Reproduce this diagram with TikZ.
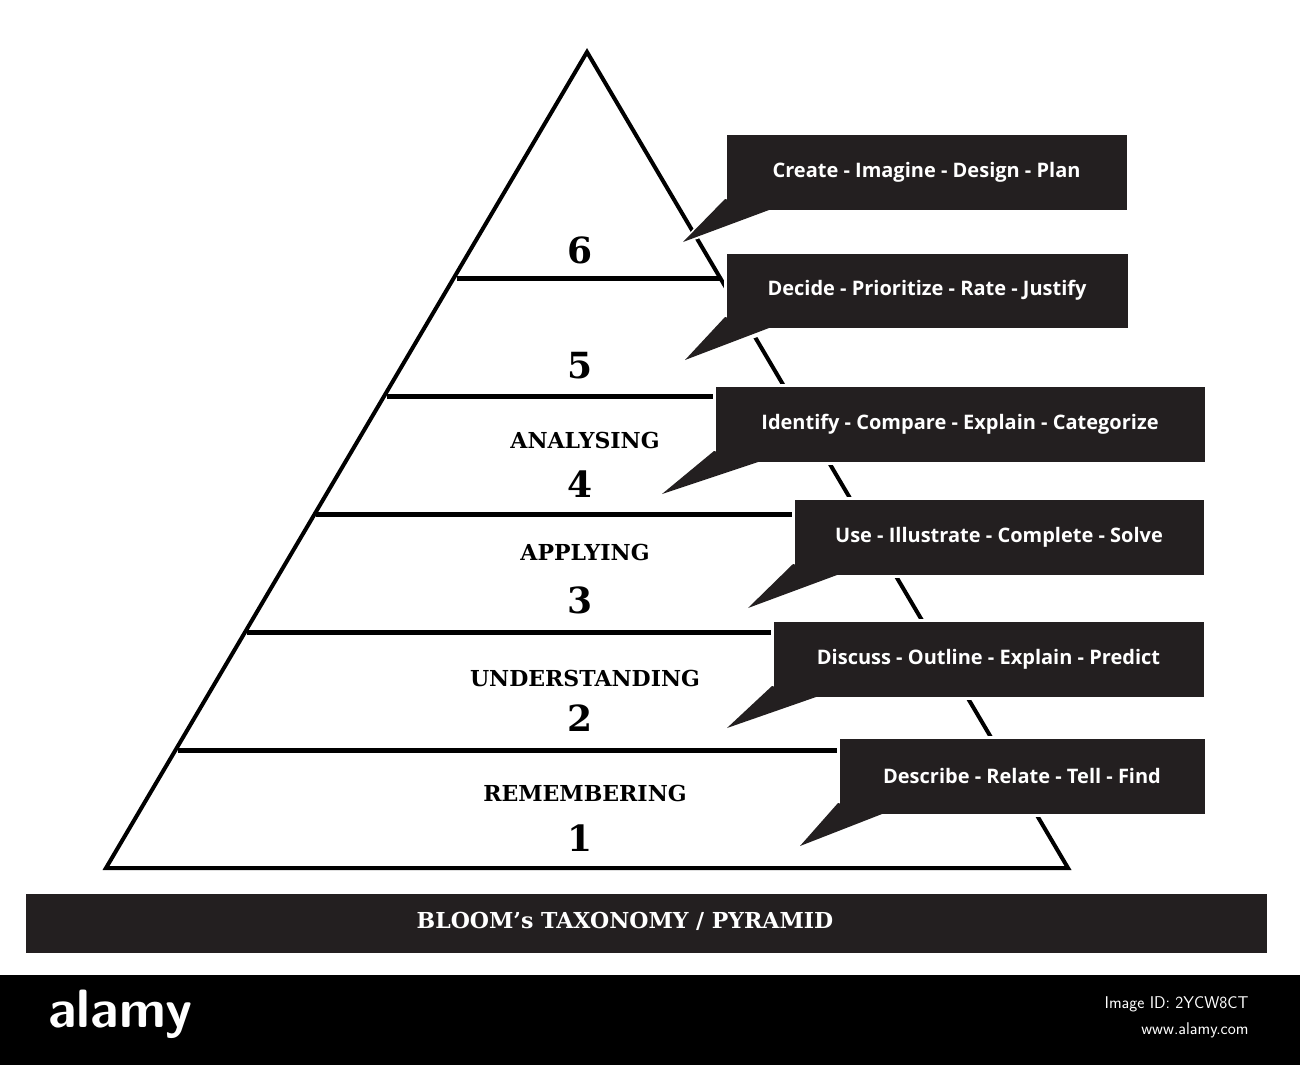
\documentclass[tikz,border=0pt]{standalone}
\usepackage{fontspec}
\setmainfont{DejaVu Serif}
\newfontfamily\boxfont{Open Sans}
\definecolor{dk}{RGB}{35,31,32}
\begin{document}
\begin{tikzpicture}[x=1pt,y=-1pt,
  lvl/.style={line width=5pt},
  cbox/.style={fill=dk,draw=white,line width=3pt},
  ctext/.style={text=white,font=\boxfont\bfseries\fontsize{20}{24}\selectfont},
  num/.style={font=\bfseries\fontsize{36}{40}\selectfont},
  captext/.style={font=\bfseries\fontsize{22}{26}\selectfont}]
\useasboundingbox (0,0) rectangle (1300,1065);
\fill[white] (0,0) rectangle (1300,1065);
\coordinate (apex) at (587,52);
\coordinate (bl) at (106,868);
\coordinate (br) at (1068,868);
\draw[line width=4pt,line join=miter] (apex) -- (bl) -- (br) -- cycle;
\draw[lvl] (457,278) -- (720,278);
\draw[lvl] (387,396) -- (720,396);
\draw[lvl] (316,514) -- (795,514);
\draw[lvl] (247,632) -- (775,632);
\draw[lvl] (178,750) -- (840,750);
% callouts
\foreach \L/\T/\R/\B/\tx/\ty/\txt/\n in {
 725/133/1128/211/683/242/{Create - Imagine - Design - Plan}/a,
 725/252/1129/329/685/360/{Decide - Prioritize - Rate - Justify}/b,
 714/385/1206/463/662/494/{Identify - Compare - Explain - Categorize}/c,
 793/498/1205/576/748/608/{Use - Illustrate - Complete - Solve}/d,
 772/620/1205/698/727/728/{Discuss - Outline - Explain - Predict}/e,
 838/737/1206/815/800/846/{Describe - Relate - Tell - Find}/f}{
  \fill[white] (\L-3,\B-14) -- (\L+47,\B+3) -- (\tx-4,\ty+3) -- cycle;
  \draw[cbox] (\L,\T) rectangle (\R,\B);
  \fill[dk] (\L,\B-12) -- (\L+44,\B-1) -- (\tx,\ty) -- cycle;
  \fill[dk] (\L+1.5,\B-16) rectangle (\L+44,\B-1.5);
  \node[ctext] (c\n) at ({(\L+\R)/2},{(\T+\B)/2}) {\txt};
}
\node[num] (n6) at (580,250) {6};
\node[num] (n5) at (580,366) {5};
\node[captext] (t4) at (585,440) {ANALYSING};
\node[num] (n4) at (580,484) {4};
\node[captext] (t3) at (585,552) {APPLYING};
\node[num] (n3) at (580,600) {3};
\node[captext] (t2) at (585,678) {UNDERSTANDING};
\node[num] (n2) at (580,718) {2};
\node[captext] (t1) at (585,793) {REMEMBERING};
\node[num] (n1) at (580,838) {1};
\fill[dk] (26,894) rectangle (1267,953);
\node[captext,text=white] (title) at (625,921) {BLOOM's TAXONOMY / PYRAMID};
% watermark band
\fill[black] (0,975) rectangle (1300,1065);
\node[text=white,font=\sffamily\bfseries\fontsize{54}{60}\selectfont,anchor=west] (al) at (45,1014) {alamy};
\node[text=white,font=\sffamily\fontsize{17}{20}\selectfont,anchor=east] (id1) at (1252,1004) {Image ID: 2YCW8CT};
\node[text=white,font=\sffamily\fontsize{17}{20}\selectfont,anchor=east] (id2) at (1252,1030) {www.alamy.com};
\end{tikzpicture}
\end{document}
